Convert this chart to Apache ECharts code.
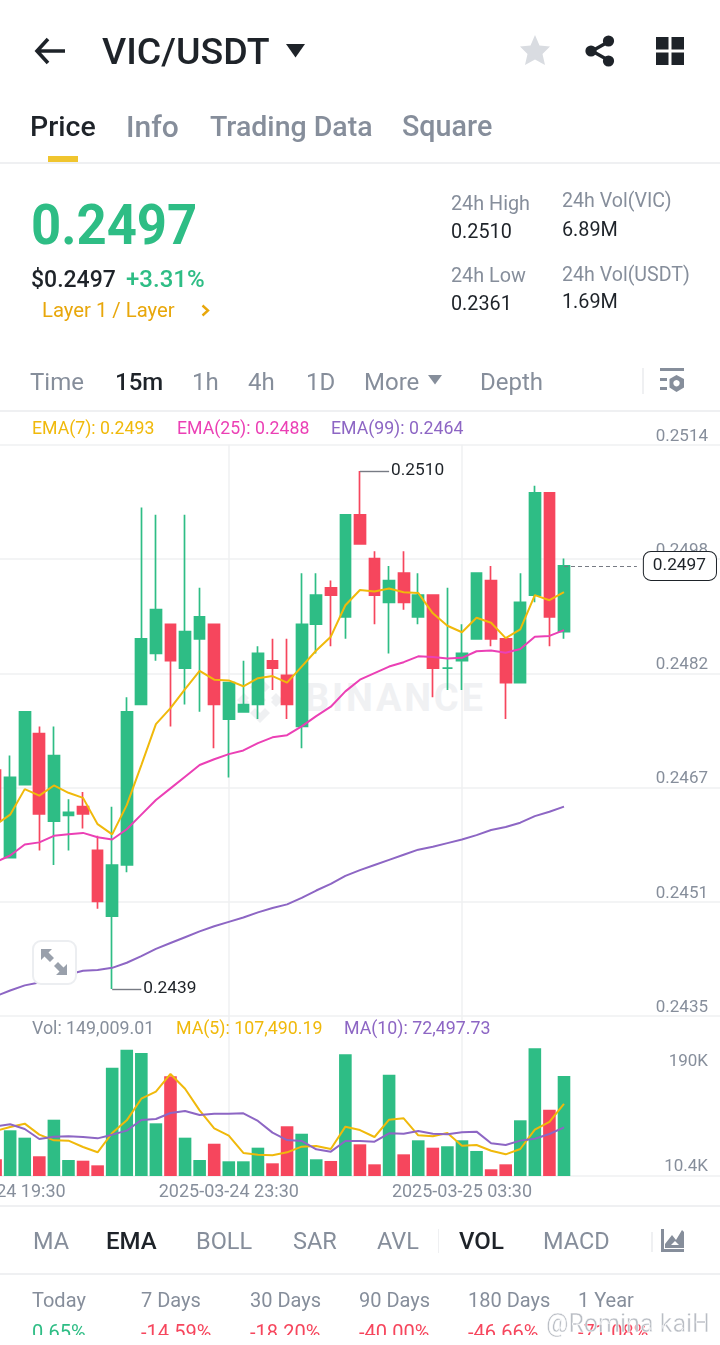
<!DOCTYPE html>
<html>
<head>
<meta charset="utf-8">
<script src="https://cdn.jsdelivr.net/npm/echarts@6/dist/echarts.min.js"></script>
<style>
  html, body { margin: 0; padding: 0; background: #fff; }
  #page { position: relative; width: 720px; height: 1345px; overflow: hidden; font-family: Roboto, sans-serif; }
  #chart { position: absolute; left: 0; top: 0; width: 720px; height: 1345px; z-index: 1; }
  #wm { position: absolute; left: 0; top: 0; z-index: 0; }
  .t { position: absolute; white-space: nowrap; transform: translateY(-50%); transform-origin: left center; z-index: 2; }
  .rule { position: absolute; background: #eff0f2; z-index: 2; }
  svg.i { position: absolute; z-index: 2; overflow: visible; }
  #clip { position: absolute; left: 0; top: 1320px; width: 720px; height: 15px; overflow: hidden; z-index: 2; }
</style>
</head>
<body>
<div id="page">
  <div id="wm">
    <svg class="i" style="left:237px;top:677px" width="46" height="46" viewBox="0 0 46 46" fill="#eff0f2">
      <path d="M23 0 L33 10 L28 15 L23 10 L18 15 L13 10 Z M23 46 L33 36 L28 31 L23 36 L18 31 L13 36 Z M0 23 L7 16 L12 21 L10 23 L12 25 L7 30 Z M46 23 L39 16 L34 21 L36 23 L34 25 L39 30 Z M23 17 L29 23 L23 29 L17 23 Z"/>
    </svg>
    <div class="t" style="left:305px;top:698px;font-size:38px;font-weight:700;color:#f0f1f3;letter-spacing:2.8px;z-index:0">BINANCE</div>
  </div>
  <div id="chart"></div>
  <!-- top bar icons -->
  <svg class="i" style="left:34px;top:36px" width="32" height="30" viewBox="0 0 32 30"><path d="M14 3 L3 15 L14 27 M3 15 L31 15" fill="none" stroke="#1e2329" stroke-width="3.6"/></svg>
  <svg class="i" style="left:286px;top:44px" width="19" height="14" viewBox="0 0 19 14"><path d="M0 0 H19 L9.5 13.5 Z" fill="#1e2329"/></svg>
  <svg class="i" style="left:519px;top:34px" width="32" height="32" viewBox="0 0 32 32"><path d="M16 1 L20.5 11.5 L31 12.5 L23.5 20 L26 31 L16 25.5 L6 31 L8.5 20 L1 12.5 L11.5 11.5 Z" fill="#d9dce1"/></svg>
  <svg class="i" style="left:584px;top:35px" width="32" height="32" viewBox="0 0 32 32"><path d="M24 7 L8 16 L24 25" fill="none" stroke="#1e2329" stroke-width="3.4"/><circle cx="24.5" cy="6" r="5.6" fill="#1e2329"/><circle cx="7" cy="16" r="5.6" fill="#1e2329"/><circle cx="24.5" cy="26" r="5.6" fill="#1e2329"/></svg>
  <svg class="i" style="left:656px;top:37px" width="28" height="28" viewBox="0 0 28 28" fill="#1e2329"><rect x="0" y="0" width="12.5" height="12.5"/><rect x="15.5" y="0" width="12.5" height="12.5"/><rect x="0" y="15.5" width="12.5" height="12.5"/><rect x="15.5" y="15.5" width="12.5" height="12.5"/></svg>
  <div class="rule" style="left:48px;top:156px;width:30px;height:6px;background:#f0c52e"></div>
  <div class="rule" style="left:0;top:162px;width:720px;height:1.5px"></div>
  <svg class="i" style="left:201px;top:304px" width="9" height="13" viewBox="0 0 9 13"><path d="M1.5 1.5 L7 6.5 L1.5 11.5" fill="none" stroke="#e8a70b" stroke-width="2.4"/></svg>
  <!-- interval row icons -->
  <svg class="i" style="left:428px;top:375px" width="14" height="10" viewBox="0 0 14 10"><path d="M0 0 H14 L7 9.5 Z" fill="#868e9b"/></svg>
  <div class="rule" style="left:642px;top:368px;width:1.5px;height:26px"></div>
  <svg class="i" style="left:660px;top:368px" width="25" height="26" viewBox="0 0 25 26" fill="#868e9b"><rect x="0" y="0" width="24" height="3"/><rect x="0" y="10" width="7" height="3"/><rect x="0" y="19" width="7" height="3"/><path d="M16.5 7 L24 11 L24 19.500 L16.500 24 L9.500 19.500 L9.500 11 Z M16.500 12 a3.200 3.200 0 1 0 0.010 0 Z" fill-rule="evenodd"/></svg>
  <div class="rule" style="left:0;top:410px;width:720px;height:1.5px"></div>
  <!-- expand button -->
  <div style="position:absolute;left:32px;top:940px;width:41px;height:41px;border:2px solid #eceef1;border-radius:9px;background:#fff;z-index:2"></div>
  <svg class="i" style="left:41px;top:949px" width="26" height="26" viewBox="0 0 26 26" fill="#99a0ab"><path d="M0 0 H11 L7.500 3.500 L13 9 L9 13 L3.500 7.500 L0 11 Z M26 26 H15 L18.500 22.500 L13 17 L17 13 L22.500 18.500 L26 15 Z"/></svg>
  <!-- indicator row -->
  <div class="rule" style="left:0;top:1205px;width:720px;height:1.5px"></div>
  <div class="rule" style="left:438px;top:1229px;width:1px;height:24px"></div>
  <div class="rule" style="left:651px;top:1232px;width:1.5px;height:20px"></div>
  <svg class="i" style="left:661px;top:1229px" width="23" height="23" viewBox="0 0 23 23" fill="#868e9b"><path d="M0 0 H3 V20 H23 V23 H0 Z M4 15 L11 6 L15 11 L21 1 L23 3 V19 H4 Z M10 16 H18 L14 12 Z" fill-rule="evenodd"/></svg>
  <div class="rule" style="left:0;top:1273px;width:720px;height:1.5px"></div>
  <div id="clip"></div>
</div>
<script>
// ---- data ----
const priceOpen = [0.2469,0.2457,0.2467,0.2474,0.2462,0.24628,0.2464,0.2458,0.2449,0.2456,0.2478,0.2485,0.2489,0.2483,0.2487,0.2489,0.2476,0.2477,0.2478,0.2484,0.2482,0.2475,0.2489,0.2494,0.2490,0.2504,0.2498,0.2492,0.2496,0.2490,0.2493,0.2483,0.2484,0.2487,0.2495,0.2487,0.2481,0.2493,0.2507,0.2488];
const priceClose = [0.2462,0.2468,0.2477,0.2463,0.2471,0.24632,0.2463,0.2451,0.2456,0.2477,0.2487,0.2491,0.2484,0.2488,0.2490,0.2478,0.2481,0.2478,0.2485,0.2483,0.2478,0.2489,0.2493,0.2493,0.2504,0.2500,0.2493,0.2495,0.2492,0.2493,0.2483,0.2483,0.2485,0.2496,0.2487,0.2481,0.2492,0.2507,0.2490,0.2497];
const priceLow = [0.2462,0.2457,0.2467,0.2458,0.2456,0.2458,0.2461,0.2450,0.2439,0.2455,0.2478,0.2484,0.2475,0.2478,0.2477,0.2472,0.2468,0.2477,0.2476,0.2480,0.2476,0.2472,0.2485,0.2486,0.2487,0.2500,0.2489,0.2485,0.2491,0.2489,0.2479,0.2480,0.2480,0.2487,0.2486,0.2476,0.2481,0.2492,0.2486,0.2487];
const priceHigh = [0.2469,0.2471,0.2477,0.2475,0.2475,0.2465,0.2466,0.2460,0.2464,0.2479,0.2505,0.2504,0.2489,0.2504,0.2494,0.2489,0.2481,0.2484,0.2486,0.2487,0.2487,0.2496,0.2496,0.2495,0.2504,0.2510,0.2499,0.2497,0.2499,0.2496,0.2493,0.2494,0.2489,0.2496,0.2497,0.2487,0.2496,0.2508,0.2507,0.2498];
const ema7 = [0.24615,0.24629,0.24664,0.24655,0.24669,0.24659,0.24652,0.24616,0.24602,0.24642,0.24697,0.24753,0.24775,0.24801,0.24826,0.24814,0.24813,0.24805,0.24816,0.24819,0.2481,0.24832,0.24854,0.24873,0.24916,0.24937,0.24935,0.24939,0.24934,0.24933,0.24905,0.24888,0.24879,0.24899,0.24892,0.24871,0.24883,0.2493,0.24923,0.24934];
const ema25 = [0.24564,0.24573,0.24588,0.24591,0.246,0.24602,0.24604,0.24598,0.24595,0.24609,0.24629,0.24649,0.24665,0.24681,0.24697,0.24705,0.24712,0.24717,0.24727,0.24735,0.24738,0.2475,0.24764,0.24777,0.24798,0.24814,0.24823,0.24832,0.24838,0.24846,0.24845,0.24843,0.24844,0.24853,0.24854,0.24851,0.24856,0.24873,0.24874,0.24882];
const ema99 = [0.2438,0.24388,0.24395,0.24399,0.24406,0.2441,0.24415,0.24416,0.24419,0.24426,0.24435,0.24445,0.24453,0.24461,0.24469,0.24476,0.24482,0.24488,0.24495,0.24501,0.24506,0.24515,0.24525,0.24534,0.24545,0.24553,0.2456,0.24567,0.24574,0.24581,0.24585,0.2459,0.24595,0.24601,0.24608,0.24612,0.24618,0.24627,0.24633,0.2464];
const volumes = [24900,68100,57100,29400,83900,23800,22800,15900,161400,188200,183300,78500,148600,57100,23800,48100,21900,21900,42200,18900,74100,63000,24900,22400,181300,47200,17400,150900,32300,53200,42200,44300,53200,37300,10000,17400,83000,190300,98800,149009];
const volMa5 = [67000,73000,78000,61600,53100,52600,43200,35300,64100,82900,115200,125700,152000,130100,97800,71000,60100,34300,31800,30800,35300,43700,44700,40200,73500,68500,58100,83900,85900,60600,59100,64100,45200,46200,37700,32300,40200,69000,80500,107490];
const volMa10 = [74000,77000,70000,55100,58600,59100,58100,56100,61600,67600,83400,84900,93900,96900,90900,92900,92900,93400,82000,64600,53600,52200,39700,36300,52200,52200,51200,63600,63100,67100,63100,62100,65100,66100,48700,46200,52700,55600,62600,72498];
const priceTicks = [0.25136,0.249794,0.248228,0.246662,0.245096,0.24353];
const volTicks = [190000,10400];
const lastPrice = 0.2497, dayHigh = 0.2510, dayLow = 0.2439;
const times = [];
for (let i = 0; i < 51; i++) {
  const d = new Date(Date.UTC(2025, 2, 24, 19, 30) + i * 900000).toISOString();
  times.push(d.slice(0, 10) + " " + d.slice(11, 16));
}

const GREEN = "#2ebd85", RED = "#f6465d", GOLD = "#f0b90b", PINK = "#eb40b5", PURPLE = "#8d66c4";
const GREY = "#868e9b", DARK = "#1e2329", LINE = "#eff0f2";

// ---- page text ----
const page = document.getElementById("page");
function txt(s, x, y, size, color, weight, parent) {
  const el = document.createElement("div");
  el.className = "t";
  el.textContent = s;
  el.style.cssText = "left:" + x + "px;top:" + y + "px;font-size:" + size + "px;color:" + color + ";font-weight:" + (weight || 400);
  (parent || page).appendChild(el);
  return el;
}
txt("VIC/USDT", 102, 51, 37.5, DARK, 500);
txt("Price", 30, 126, 28.5, DARK, 500);
txt("Info", 126, 126, 30, GREY, 500);
txt("Trading Data", 210, 126, 28.5, GREY, 500);
txt("Square", 402, 126, 28.7, GREY, 500);
txt("0.2497", 31, 225, 56, GREEN, 700).style.transform = "translateY(-50%) scaleX(0.94)";
txt("$0.2497", 31, 279, 23, DARK, 500);
txt("+3.31%", 126, 279, 24, GREEN, 500);
txt("Layer 1 / Layer", 42, 310, 20.3, "#e8a70b");
txt("24h High", 451, 203, 19.8, GREY);
txt("0.2510", 451, 231, 19.8, DARK);
txt("24h Low", 451, 275, 19.8, GREY);
txt("0.2361", 451, 303, 19.8, DARK);
txt("24h Vol(VIC)", 562, 200, 19.6, GREY);
txt("6.89M", 562, 229, 19.8, DARK);
txt("24h Vol(USDT)", 562, 274, 19.6, GREY);
txt("1.69M", 562, 301, 19.8, DARK);
[["Time", 30], ["1h", 192], ["4h", 248], ["1D", 306], ["More", 364], ["Depth", 480]].forEach(a => txt(a[0], a[1], 382, 24, GREY));
txt("15m", 115, 382, 24, DARK, 500);
txt("EMA(7): 0.2493", 32, 428, 17.7, GOLD);
txt("EMA(25): 0.2488", 177, 428, 17.7, PINK);
txt("EMA(99): 0.2464", 331, 428, 17.7, PURPLE);
txt("Vol: 149,009.01", 32, 1027, 17.8, GREY);
txt("MA(5): 107,490.19", 176, 1027, 17.8, GOLD);
txt("MA(10): 72,497.73", 344, 1027, 17.8, PURPLE);
[["MA", 33], ["BOLL", 196], ["SAR", 293], ["AVL", 377], ["MACD", 543]].forEach(a => txt(a[0], a[1], 1241, 23.5, GREY));
txt("EMA", 106, 1241, 24, DARK, 500);
txt("VOL", 459, 1241, 24, DARK, 500);
[["Today", 32], ["7 Days", 141], ["30 Days", 250], ["90 Days", 359], ["180 Days", 468], ["1 Year", 578]].forEach(a => txt(a[0], a[1], 1300, 20, GREY));
const clip = document.getElementById("clip");
txt("0.65%", 32, 12, 20, GREEN, 400, clip);
[["-14.59%", 141], ["-18.20%", 250], ["-40.00%", 359], ["-46.66%", 468], ["-71.08%", 578]].forEach(a => txt(a[0], a[1], 12, 20, RED, 400, clip));
txt("@Romina kaiH", 546, 1323, 25, "#b9bdc4").style.webkitTextStroke = "0.5px #ffffff";

// ---- chart ----
const chart = echarts.init(document.getElementById("chart"), null, { renderer: "canvas" });
const gridLeft = -11.7, gridWidth = 743.3;
const everySixteen = i => i % 16 === 0 && i < 48;
const emaLine = (name, data, color) => ({
  name, type: "line", data, showSymbol: false, silent: true, z: 3,
  lineStyle: { color, width: 2 }, itemStyle: { color }
});
const volLine = (name, data, color) => ({
  name, type: "line", data, xAxisIndex: 1, yAxisIndex: 1, showSymbol: false, silent: true, z: 3,
  lineStyle: { color, width: 2 }, itemStyle: { color }
});
const extreme = (idx, value) => [
  {
    coord: [idx, value], symbol: "none",
    lineStyle: { color: "#777b84", width: 1.4, type: "solid" },
    label: { position: "end", distance: 2, color: DARK, fontSize: 17.3, fontFamily: "Roboto", formatter: () => value.toFixed(4) }
  },
  { coord: [idx + 2, value], symbol: "none" }
];
const option = {
  animation: false,
  grid: [
    { left: gridLeft, width: gridWidth, top: 444.8, height: 571.2, outerBoundsMode: "none" },
    { left: gridLeft, width: gridWidth, top: 1016, height: 160, outerBoundsMode: "none" }
  ],
  xAxis: [0, 1].map(n => ({
    gridIndex: n, type: "category", data: times, boundaryGap: true,
    axisLine: { show: n === 1, lineStyle: { color: LINE, width: 1.5 } },
    axisTick: { show: false, alignWithLabel: true, interval: everySixteen },
    axisLabel: {
      show: n === 1, interval: everySixteen, color: GREY, fontSize: 18, fontFamily: "Roboto", margin: 7, hideOverlap: false
    },
    splitLine: { show: true, alignWithLabel: true, interval: everySixteen, lineStyle: { color: LINE, width: 1.5 } }
  })),
  yAxis: [
    {
      gridIndex: 0, type: "value", position: "right", min: priceTicks[5], max: priceTicks[0],
      axisLine: { show: false },
      axisTick: { show: false, customValues: priceTicks },
      axisLabel: {
        inside: true, customValues: priceTicks, margin: 23.6, color: GREY, fontSize: 17, fontFamily: "Roboto",
        verticalAlign: "bottom", padding: 0, formatter: v => v.toFixed(4), hideOverlap: false
      },
      splitLine: { show: true, lineStyle: { color: LINE, width: 1.5 } }
    },
    {
      gridIndex: 1, type: "value", position: "right", min: 0, max: 238400,
      axisLine: { show: false },
      axisTick: { show: false },
      axisLabel: {
        inside: true, customValues: volTicks, margin: 23.6, color: GREY, fontSize: 17, fontFamily: "Roboto",
        formatter: v => (v >= 100000 ? "{hi|" + v / 1000 + "K}" : "{lo|" + (v / 1000).toFixed(1) + "K}"),
        rich: {
          hi: { padding: [26, 0, 0, 0], color: GREY, fontSize: 17 },
          lo: { padding: [0, 0, 4, 0], color: GREY, fontSize: 17 }
        }
      },
      splitLine: { show: false }
    }
  ],
  series: [
    {
      name: "15m", type: "candlestick", z: 2, barWidth: 11.2, silent: true,
      data: priceOpen.map((o, i) => [o, priceClose[i], priceLow[i], priceHigh[i]]),
      itemStyle: { color: GREEN, color0: RED, borderColor: GREEN, borderColor0: RED, borderWidth: 1.7 },
      markLine: {
        silent: true, animation: false, symbol: "none",
        data: [
          extreme(25, dayHigh),
          extreme(8, dayLow),
          [
            {
              coord: [39, lastPrice], symbol: "none",
              lineStyle: { color: "#777b84", width: 1.2, type: [4, 3] },
              label: {
                position: "end", distance: 7, color: DARK, fontSize: 17.3, fontFamily: "Roboto",
                backgroundColor: "#fff", borderColor: DARK, borderWidth: 1, borderRadius: 7,
                padding: [6, 10, 5, 9], formatter: () => lastPrice.toFixed(4)
              }
            },
            { coord: [44, lastPrice], symbol: "none" }
          ]
        ]
      }
    },
    emaLine("EMA(7)", ema7, GOLD),
    emaLine("EMA(25)", ema25, PINK),
    emaLine("EMA(99)", ema99, PURPLE),
    {
      name: "Vol", type: "bar", xAxisIndex: 1, yAxisIndex: 1, barWidth: 12.6, silent: true,
      data: volumes,
      itemStyle: { color: p => (priceClose[p.dataIndex] >= priceOpen[p.dataIndex] ? GREEN : RED) }
    },
    volLine("MA(5)", volMa5, GOLD),
    volLine("MA(10)", volMa10, PURPLE)
  ]
};
chart.setOption(option);
</script>
</body>
</html>
